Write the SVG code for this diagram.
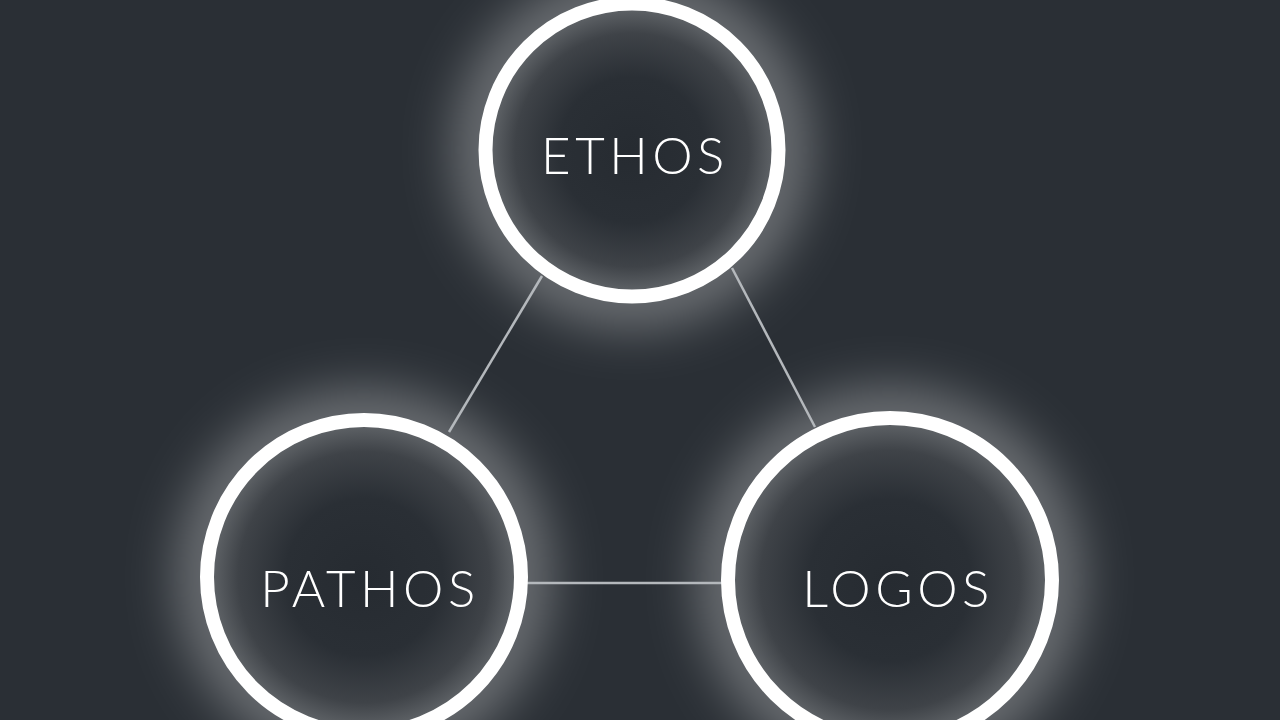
<svg xmlns="http://www.w3.org/2000/svg" width="1280" height="720" viewBox="0 0 1280 720">
  <defs>
    <filter id="glow" x="-60%" y="-60%" width="220%" height="220%">
      <feGaussianBlur stdDeviation="28"/>
    </filter>
    <radialGradient id="inner" cx="0.5" cy="0.5" r="0.5">
      <stop offset="0" stop-color="#262b31"/>
      <stop offset="0.5" stop-color="#2a2f35"/>
      <stop offset="0.8" stop-color="#3f4348"/>
      <stop offset="1" stop-color="#64686c"/>
    </radialGradient>
    <style>
      .bg { fill: #2a2f35; }
      .halo { fill: none; stroke: #ffffff; stroke-width: 50; opacity: 0.4; filter: url(#glow); }
      .disc { fill: url(#inner); }
      .ring { fill: none; stroke: #ffffff; stroke-width: 14; }
      .link { stroke: #b4b8bc; stroke-width: 2.5; fill: none; }
      .label { fill: #ffffff; font-family: "Lato", "Open Sans", sans-serif; font-weight: 300; font-size: 51px; letter-spacing: 4.5px; text-anchor: middle; }
    </style>
  </defs>
  <rect class="bg" x="0" y="0" width="1280" height="720"/>
  <g id="halos">
    <circle class="halo" cx="632" cy="150" r="148"/>
    <circle class="halo" cx="364" cy="577" r="157"/>
    <circle class="halo" cx="890" cy="580" r="162"/>
  </g>
  <g id="connectors">
    <line class="link" x1="542" y1="276" x2="449" y2="432"/>
    <line class="link" x1="732" y1="268" x2="815" y2="427"/>
    <line class="link" x1="527" y1="583" x2="722" y2="583"/>
  </g>
  <g id="ethos">
    <circle class="disc" cx="632" cy="150" r="146"/>
    <circle class="ring" cx="632" cy="150" r="146.5"/>
    <text class="label" x="635" y="174">ETHOS</text>
  </g>
  <g id="pathos">
    <circle class="disc" cx="364" cy="577" r="157"/>
    <circle class="ring" cx="364" cy="577" r="157"/>
    <text class="label" x="370" y="607">PATHOS</text>
  </g>
  <g id="logos">
    <circle class="disc" cx="890" cy="580" r="162"/>
    <circle class="ring" cx="890" cy="580" r="162"/>
    <text class="label" x="898" y="607">LOGOS</text>
  </g>
</svg>
